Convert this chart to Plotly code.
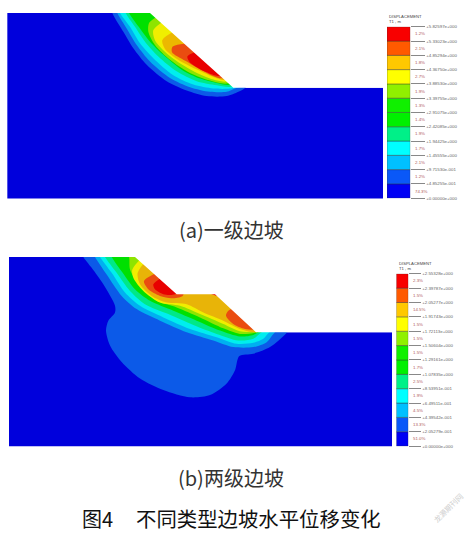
"""
Горизонтальные смещения откоса: два контурных поля с легендами.
Контуры читаются с картинки, единицы по осям - пиксели снимка x3.
"""

import plotly.graph_objects as go

W, H = 474, 539
FONT_CN = "Noto Sans CJK SC"

# (a) откос
a_outline_x = [22, 450, 700, 1149, 1149, 22]
a_outline_y = [33, 33, 260, 260, 595, 595]
a_mask_x = [0, 1149, 1149, 700, 450, 0]
a_mask_y = [0, 0, 260, 260, 33, 33]
a_tail_x = [800, 560]
a_tail_y = [150, 5]

a_bands_x = [
    [330, 340, 370, 400, 440, 500, 560, 620, 680, 715, 738],
    [346, 352, 380, 410, 450, 510, 570, 630, 680, 705, 722],
    [354, 360, 390, 420, 460, 520, 580, 640, 690, 712],
    [371, 377, 405, 435, 475, 530, 590, 650, 700],
    [381, 387, 420, 450, 490, 545, 600, 650, 693],
    [480, 448, 445, 465, 510, 570, 630, 686],
    [495, 460, 466, 515, 578, 640, 682],
    [530, 487, 495, 532, 588, 650, 677],
    [565, 518, 516, 556, 608, 668],
    [590, 562, 570, 618, 662],
]
a_bands_y = [
    [15, 40, 90, 140, 190, 240, 268, 285, 285, 272, 258],
    [15, 33, 80, 130, 180, 230, 258, 272, 272, 262, 255],
    [15, 33, 75, 125, 170, 222, 250, 262, 262, 255],
    [15, 33, 75, 120, 165, 210, 240, 252, 255],
    [15, 33, 80, 120, 160, 205, 232, 245, 250],
    [40, 62, 90, 130, 175, 215, 238, 246],
    [55, 85, 118, 168, 208, 235, 240],
    [85, 115, 142, 173, 203, 231, 236],
    [125, 135, 152, 178, 208, 231],
    [150, 165, 183, 212, 224],
]

# (b) двухступенчатый откос
b_outline_x = [27, 405, 530, 645, 768, 1176, 1176, 27]
b_outline_y = [22, 22, 135, 135, 250, 250, 595, 595]
b_mask_x = [0, 1176, 1176, 768, 645, 530, 405, 0]
b_mask_y = [-40, -40, 250, 250, 135, 135, 22, 22]
b_tail_x = [900, 800]
b_tail_y = [200, 0]

b_bands_x = [
    [245, 250, 275, 310, 345, 345, 325, 318, 330, 365, 420, 490, 570, 630, 680, 705, 718, 760, 810, 862],
    [280, 285, 320, 365, 410, 480, 560, 640, 700, 760, 800, 825],
    [295, 300, 335, 375, 420, 490, 570, 650, 710, 760, 790, 808],
    [310, 315, 350, 390, 435, 505, 580, 650, 715, 760, 785],
    [330, 335, 368, 405, 450, 520, 590, 660, 720, 760, 775],
    [385, 388, 390, 420, 470, 530, 600, 670, 720, 770],
    [430, 397, 400, 430, 480, 540, 600, 670, 720, 765],
    [445, 413, 420, 455, 500, 560, 610, 670, 720, 770],
    [470, 432, 445, 480, 515, 548, 560],
    [500, 460, 465, 490, 525, 545],
    [720, 685, 678, 700, 735, 775, 800],
]
b_bands_y = [
    [10, 22, 55, 105, 170, 190, 215, 245, 290, 340, 390, 425, 447, 440, 405, 365, 322, 315, 295, 250],
    [10, 22, 75, 140, 180, 215, 250, 275, 295, 295, 280, 250],
    [10, 22, 70, 130, 170, 205, 240, 265, 285, 282, 270, 250],
    [10, 22, 70, 125, 165, 195, 228, 255, 275, 270, 250],
    [10, 22, 70, 120, 155, 185, 215, 245, 263, 258, 250],
    [5, 28, 60, 110, 155, 175, 205, 238, 255, 250],
    [20, 60, 85, 125, 160, 170, 195, 225, 247, 247],
    [25, 70, 105, 140, 160, 165, 190, 215, 240, 250],
    [70, 95, 120, 140, 147, 140, 110],
    [75, 105, 120, 135, 135, 115],
    [170, 185, 200, 225, 240, 240, 200],
]

# цвета поля: от внешней изолинии к внутренней
a_band_colors = ["#0c5ae8", "#00b0f0", "#00eeee", "#00e888", "#00e000",
                 "#8ee400", "#f0ee00", "#ecb800", "#ea4c10", "#e80000"]
b_band_colors = ["#0c5ae8", "#00b0f0", "#00eeee", "#00e888", "#00e000",
                 "#8ee400", "#f0ee00", "#e8b408", "#ea4c10", "#e80000", "#ea4c10"]
base_color = "#0000dc"

# легенда: снизу вверх
legend_colors = ["#0000f4", "#0a58f8", "#00c0ff", "#00ffff", "#00f088", "#00f000",
                 "#10f000", "#90f000", "#ffff00", "#ffc800", "#ff5a00", "#f80000"]
a_tick_labels = ["+0.00000e+000", "+4.85255e-001", "+9.71530e-001", "+1.45555e+000",
                 "+1.94425e+000", "+2.42085e+000", "+2.91075e+000", "+3.39755e+000",
                 "+3.88530e+000", "+4.36750e+000", "+4.85294e+000", "+5.33023e+000",
                 "+5.82597e+000"]
b_tick_labels = ["+0.00000e+000", "+2.05279e-001", "+4.39542e-001", "+6.49511e-001",
                 "+8.53951e-001", "+1.07835e+000", "+1.29161e+000", "+1.50604e+000",
                 "+1.72113e+000", "+1.91743e+000", "+2.05277e+000", "+2.39787e+000",
                 "+2.55328e+000"]
a_percents = ["74.3%", "1.2%", "2.1%", "1.7%", "1.9%", "1.4%", "1.3%", "1.9%", "2.7%", "1.8%", "2.1%", "1.2%"]
b_percents = ["51.0%", "13.3%", "4.5%", "1.9%", "2.5%", "1.7%", "1.5%", "1.5%", "1.5%", "14.5%", "1.5%", "2.3%"]


def add_field(fig, yaxis, outline_x, outline_y, bands_x, bands_y, colors, tail_x, tail_y, mask_x, mask_y):
    fig.add_trace(go.Scatter(x=outline_x, y=outline_y, yaxis=yaxis, mode="lines", fill="toself",
                             fillcolor=base_color, line=dict(width=0)))
    for xs, ys, color in zip(bands_x, bands_y, colors):
        fig.add_trace(go.Scatter(x=xs + tail_x, y=ys + tail_y, yaxis=yaxis, mode="lines", fill="toself",
                                 fillcolor=color, line=dict(width=0, shape="spline", smoothing=0.8)))
    # белая маска над поверхностью откоса
    fig.add_trace(go.Scatter(x=mask_x, y=mask_y, yaxis=yaxis, mode="lines", fill="toself",
                             fillcolor="white", line=dict(width=0)))


def add_legend(fig, n, left, right, top, bottom, labels, percents, ticklen, header, header_x, header_y, pct_x):
    fig.add_trace(go.Bar(x=[0] * 12, y=[1] * 12, base=list(range(12)), width=1,
                         marker=dict(color=legend_colors, line=dict(width=0.4, color="#303030")),
                         xaxis=f"x{n}", yaxis=f"y{n}"))
    fig.layout[f"xaxis{n}"] = dict(domain=[left / W, right / W], range=[-0.5, 0.5], visible=False,
                                   anchor=f"y{n}")
    fig.layout[f"yaxis{n}"] = dict(domain=[1 - bottom / H, 1 - top / H], range=[0, 12], anchor=f"x{n}",
                                   side="right", tickvals=list(range(13)), ticktext=labels,
                                   ticks="outside", ticklen=ticklen, tickwidth=0.6, tickcolor="#888888",
                                   tickfont=dict(size=4.4, color="#666666", family="Liberation Sans"),
                                   showgrid=False, zeroline=False, showline=False)
    for i, pct in enumerate(percents):
        fig.add_annotation(text=pct, xref="paper", yref=f"y{n}", x=pct_x / W, y=i + 0.5,
                           xanchor="left", yanchor="middle", showarrow=False,
                           font=dict(size=4.4, color="#b05858", family="Liberation Sans"))
    for line, y in zip(header, header_y):
        fig.add_annotation(text=line, xref="paper", yref="paper", x=header_x / W, y=1 - y / H,
                           xanchor="left", yanchor="middle", showarrow=False,
                           font=dict(size=4.2, color="#444444", family="Liberation Sans"))


fig = go.Figure()
add_field(fig, "y", a_outline_x, a_outline_y, a_bands_x, a_bands_y, a_band_colors,
          a_tail_x, a_tail_y, a_mask_x, a_mask_y)
add_field(fig, "y2", b_outline_x, b_outline_y, b_bands_x, b_bands_y, b_band_colors,
          b_tail_x, b_tail_y, b_mask_x, b_mask_y)
add_legend(fig, 3, 387, 410.3, 25, 198, a_tick_labels, a_percents, 14,
           ["DISPLACEMENT", "T1 , m"], 387, [15, 20], 413)
add_legend(fig, 4, 396.3, 408.3, 274.3, 448.3, b_tick_labels, b_percents, 12,
           ["DISPLACEMENT", "T1 , m"], 397, [264, 269], 411)

captions = [
    ("(a)一级边坡", 231, 229.5, 20, "#333333"),
    ("(b)两级边坡", 231, 480, 20, "#333333"),
    ("图4", 97, 521, 20, "#111111"),
    ("不同类型边坡水平位移变化", 258, 521, 20.4, "#111111"),
]
for text, x, y, size, color in captions:
    fig.add_annotation(text=text, xref="paper", yref="paper", x=x / W, y=1 - y / H,
                       xanchor="center", yanchor="middle", showarrow=False,
                       font=dict(size=size, color=color, family=FONT_CN))
fig.add_annotation(text="龙源期刊网", xref="paper", yref="paper", x=448 / W, y=1 - 510 / H,
                   xanchor="center", yanchor="middle", showarrow=False,
                   textangle=-45, font=dict(size=7.5, color="#cfcfcf", family=FONT_CN))

fig.update_layout(
    width=W, height=H, margin=dict(l=0, r=0, t=0, b=0), showlegend=False,
    paper_bgcolor="white", plot_bgcolor="white", hovermode=False,
    xaxis=dict(domain=[0, 1], range=[0, 1422], visible=False),
    yaxis=dict(domain=[0, 1], range=[1617, 0], visible=False),
    yaxis2=dict(domain=[0, 1], range=[867, -750], visible=False, overlaying="y"),
)

fig.write_html("out.html", config={"displayModeBar": False},
               post_script="document.body.style.margin='0';")
